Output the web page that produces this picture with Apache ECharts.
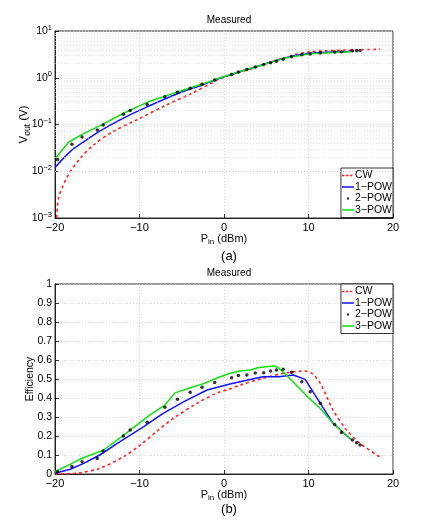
<!DOCTYPE html>
<html><head><meta charset="utf-8">
<script src="https://cdn.jsdelivr.net/npm/echarts@6/dist/echarts.min.js"></script>
<style>html,body{margin:0;padding:0;background:#fff}#c{width:427px;height:527px}</style>
</head><body><div id="c"></div>
<script>
// ---- (a) Vout vs Pin ----
const cwP_a   = [-19.8,-19.6,-19.0,-18.2,-17.0,-15.5,-13.1,-10.3,-6.8,-4.0,0,3,7,8.5,10.3,12,14,16,18.5];
const cwV_a   = [0.00102,0.0026,0.0051,0.0098,0.019,0.036,0.071,0.126,0.263,0.447,1.03,1.51,2.6,3.16,3.61,3.76,3.89,3.98,4.06];
const p1P_a   = [-20,-18.2,-16.6,-14.7,-12.3,-9.5,-5.6,-2.5,0,3.5,7.1,10.2,13,15.3];
const p1V_a   = [0.012,0.0263,0.0427,0.0724,0.126,0.221,0.449,0.708,1.05,1.66,2.63,3.35,3.55,3.67];
const p3P_a   = [-19.9,-18.4,-16.8,-14.3,-11.9,-9.1,-5.4,-2.5,0,3.5,7.1,10.2,13,15.0];
const p3V_a   = [0.0195,0.0417,0.0617,0.102,0.174,0.298,0.504,0.741,1.06,1.66,2.6,3.27,3.47,3.61];
const dotP    = [-19.7,-18.0,-16.8,-15.0,-14.3,-11.9,-11.1,-9.1,-7.0,-5.5,-4.0,-2.6,-1.1,0.9,1.7,2.7,3.7,4.7,5.5,6.2,7.0,8.0,9.2,10.2,11.4,13.1,13.9,15.2,15.7,16.1];
const dotV_a  = [0.0178,0.038,0.0537,0.0759,0.0977,0.166,0.2,0.269,0.394,0.488,0.593,0.724,0.891,1.17,1.32,1.51,1.70,1.91,2.09,2.26,2.48,2.82,3.09,3.24,3.39,3.55,3.59,3.76,3.80,3.85];
// ---- (b) Efficiency vs Pin ----
const cwP_b   = [-20,-17.4,-14.7,-11.9,-9.9,-8.0,-6.0,-3.2,-0.9,0.7,1.9,4.6,7.4,9.4,10.4,11.4,12.9,14.5,16.1,18.4];
const cwE_b   = [0,0.004,0.03,0.091,0.153,0.223,0.293,0.372,0.425,0.448,0.468,0.504,0.533,0.542,0.53,0.477,0.337,0.232,0.161,0.091];
const p1P_b   = [-20,-18.2,-16.6,-14.7,-12.3,-9.5,-7.2,-4.8,-2.0,0.7,1.9,4.6,6.5,8.2,9.6,11.4,12.9,15.1];
const p1E_b   = [0.004,0.025,0.056,0.1,0.17,0.249,0.319,0.38,0.442,0.474,0.486,0.512,0.512,0.521,0.498,0.372,0.267,0.179];
const p3P_b   = [-20,-18.0,-16.8,-14.3,-11.9,-8.8,-7.0,-5.8,-4.0,-2.3,-0.9,0.7,1.9,3.1,4.1,5.9,6.4,7.4,9.8,11.4,12.9,15.1];
const p3E_b   = [0.012,0.056,0.083,0.125,0.203,0.31,0.363,0.427,0.454,0.477,0.504,0.53,0.542,0.547,0.561,0.568,0.56,0.52,0.41,0.345,0.267,0.179];
const dotE_b  = [0.012,0.039,0.065,0.082,0.121,0.2,0.232,0.272,0.351,0.393,0.43,0.456,0.482,0.507,0.518,0.521,0.532,0.533,0.542,0.547,0.551,0.535,0.486,0.433,0.372,0.261,0.218,0.179,0.165,0.153];
// ---- axes / labels ----
const logMinor = [2,3,4,5,6,7,8,9];
const logDecades = [0.001,0.01,0.1,1];
const seriesNames = ['CW','1\u2212POW','2\u2212POW','3\u2212POW'];
const titleText = 'Measured';

const zip = (a,b) => a.map((v,i)=>[v,b[i]]);
const FONT = 'Liberation Sans, Arial, sans-serif';
const RED='#ff2020', BLUE='#1010ff', GREEN='#10e010';

const minorLines = [];
logDecades.forEach(d => logMinor.forEach(m => minorLines.push({yAxis: +(d*m).toPrecision(3)})));

function fmtMinus(v){ return String(v).replace('-', '\u2212'); }

const chart = echarts.init(document.getElementById('c'), null, {renderer:'canvas'});
const axisCommon = {
  axisLine:{show:true,onZero:false,lineStyle:{color:'#000',width:0.8}},
  axisTick:{show:true,inside:true,length:4,lineStyle:{color:'#000',width:0.8}},
  axisLabel:{color:'#000',fontSize:11,fontFamily:FONT},
  splitLine:{show:true,lineStyle:{color:'#c8c8c8',type:[1,2],width:0.7}}
};
const xName = '{a|P}{s|in}{a| (dBm)}';
const nameRich = {a:{fontSize:11,fontFamily:FONT,color:'#000'}, s:{fontSize:8,fontFamily:FONT,color:'#000',padding:[6,0,0,0]}};

// legend icons: bounding specks keep every icon the same 12x6 box
const BOX = 'M0,0h0.05v0.05h-0.05zM11.95,5.95h0.05v0.05h-0.05z';
const ICON_SOLID  = 'path://' + BOX + 'M0,2.3h12v1.4h-12z';
const ICON_DASHED = 'path://' + BOX + 'M0,2.3h2.5v1.4h-2.5zM4,2.3h2.5v1.4h-2.5zM8,2.3h2.5v1.4h-2.5z';
const ICON_DOT    = 'path://' + BOX + 'M4.8,3a1.2,1.2 0 1,0 2.4,0a1.2,1.2 0 1,0 -2.4,0z';
const legendIcons = [ICON_DASHED, ICON_SOLID, ICON_DOT, ICON_SOLID];
const legendColors = [RED, BLUE, '#000', GREEN];

const legendCommon = {
  orient:'vertical', right:34, itemWidth:12, itemHeight:6, itemGap:0.5,
  backgroundColor:'#fff', borderColor:'#000', borderWidth:0.8, padding:[2,1,2,1],
  textStyle:{fontSize:10.5,lineHeight:10,fontFamily:FONT,color:'#000',padding:[0,0,0,-4]},
  data: seriesNames.map((n,i)=>({name:n, icon:legendIcons[i], itemStyle:{color:legendColors[i],borderWidth:0}}))
};

const option = {
  animation:false,
  backgroundColor:'#fff',
  title:[
    {text:titleText,left:224,top:10,textAlign:'center',textStyle:{fontSize:10,fontWeight:'normal',fontFamily:FONT,color:'#000'}},
    {text:'(a)',left:224,top:245,textAlign:'center',textStyle:{fontSize:13,fontWeight:'normal',fontFamily:FONT,color:'#000'}},
    {text:titleText,left:224,top:263,textAlign:'center',textStyle:{fontSize:10,fontWeight:'normal',fontFamily:FONT,color:'#000'}},
    {text:'(b)',left:224,top:498,textAlign:'center',textStyle:{fontSize:13,fontWeight:'normal',fontFamily:FONT,color:'#000'}}
  ],
  grid:[
    {left:55,right:34,top:31,height:187,show:true,borderColor:'#000',borderWidth:0.8,backgroundColor:'#fff'},
    {left:55,right:34,top:284,height:190,show:true,borderColor:'#000',borderWidth:0.8,backgroundColor:'#fff'}
  ],
  xAxis:[
    Object.assign({}, axisCommon, {type:'value',gridIndex:0,min:-20,max:20,interval:10,
      axisLabel:Object.assign({},axisCommon.axisLabel,{formatter:fmtMinus,margin:4}),
      name:xName,nameLocation:'middle',nameGap:14,nameMoveOverlap:false,nameTextStyle:{rich:nameRich}}),
    Object.assign({}, axisCommon, {type:'value',gridIndex:1,min:-20,max:20,interval:10,
      axisLabel:Object.assign({},axisCommon.axisLabel,{formatter:fmtMinus,margin:4}),
      name:xName,nameLocation:'middle',nameGap:14,nameMoveOverlap:false,nameTextStyle:{rich:nameRich}})
  ],
  yAxis:[
    Object.assign({}, axisCommon, {type:'log',logBase:10,gridIndex:0,min:0.001,max:10,
      axisLabel:{color:'#000',fontFamily:FONT,margin:3,
        formatter:v=>'{b|10}{e|'+fmtMinus(Math.round(Math.log10(v)))+'}',
        rich:{b:{fontSize:10.5,fontFamily:FONT,color:'#000'},e:{fontSize:7.5,fontFamily:FONT,color:'#000',padding:[0,0,7,0]}}},
      name:'{a|V}{s|out}{a| (V)}',nameLocation:'middle',nameGap:23,nameRotate:90,nameMoveOverlap:false,
      nameTextStyle:{rich:{a:{fontSize:11.5,fontFamily:FONT,color:'#000'},s:{fontSize:8.5,fontFamily:FONT,color:'#000',padding:[7,0,0,0]}}}}),
    Object.assign({}, axisCommon, {type:'value',gridIndex:1,min:0,max:1,interval:0.1,
      axisLabel:Object.assign({},axisCommon.axisLabel,{margin:3,fontSize:10.5}),
      name:'Efficiency',nameLocation:'middle',nameGap:19,nameRotate:90,nameMoveOverlap:false,
      nameTextStyle:{fontSize:10.5,fontFamily:FONT,color:'#000'}})
  ],
  legend:[
    Object.assign({}, legendCommon, {top:168}),
    Object.assign({}, legendCommon, {top:284})
  ],
  series:[
    {name:seriesNames[0],type:'line',xAxisIndex:0,yAxisIndex:0,data:zip(cwP_a,cwV_a),symbol:'none',smooth:0.3,
      lineStyle:{color:RED,width:1.6,type:[3,3]},itemStyle:{color:RED},z:3,
      markLine:{silent:true,symbol:'none',label:{show:false},animation:false,
        lineStyle:{color:'#d0d0d0',type:[1,2],width:0.6},data:minorLines}},
    {name:seriesNames[1],type:'line',xAxisIndex:0,yAxisIndex:0,data:zip(p1P_a,p1V_a),symbol:'none',smooth:0.3,
      lineStyle:{color:BLUE,width:1.5},itemStyle:{color:BLUE},z:4},
    {name:seriesNames[2],type:'scatter',xAxisIndex:0,yAxisIndex:0,data:zip(dotP,dotV_a),symbol:'circle',symbolSize:3.5,
      itemStyle:{color:'#000'},z:6},
    {name:seriesNames[3],type:'line',xAxisIndex:0,yAxisIndex:0,data:zip(p3P_a,p3V_a),symbol:'none',
      lineStyle:{color:GREEN,width:1.5},itemStyle:{color:GREEN},z:5},

    {name:seriesNames[0],type:'line',xAxisIndex:1,yAxisIndex:1,data:zip(cwP_b,cwE_b),symbol:'none',smooth:0.3,
      lineStyle:{color:RED,width:1.6,type:[3,3]},itemStyle:{color:RED},z:3},
    {name:seriesNames[1],type:'line',xAxisIndex:1,yAxisIndex:1,data:zip(p1P_b,p1E_b),symbol:'none',
      lineStyle:{color:BLUE,width:1.5},itemStyle:{color:BLUE},z:4},
    {name:seriesNames[2],type:'scatter',xAxisIndex:1,yAxisIndex:1,data:zip(dotP,dotE_b),symbol:'circle',symbolSize:3.5,
      itemStyle:{color:'#000'},z:6},
    {name:seriesNames[3],type:'line',xAxisIndex:1,yAxisIndex:1,data:zip(p3P_b,p3E_b),symbol:'none',
      lineStyle:{color:GREEN,width:1.5},itemStyle:{color:GREEN},z:5}
  ]
};
chart.setOption(option);
</script></body></html>
